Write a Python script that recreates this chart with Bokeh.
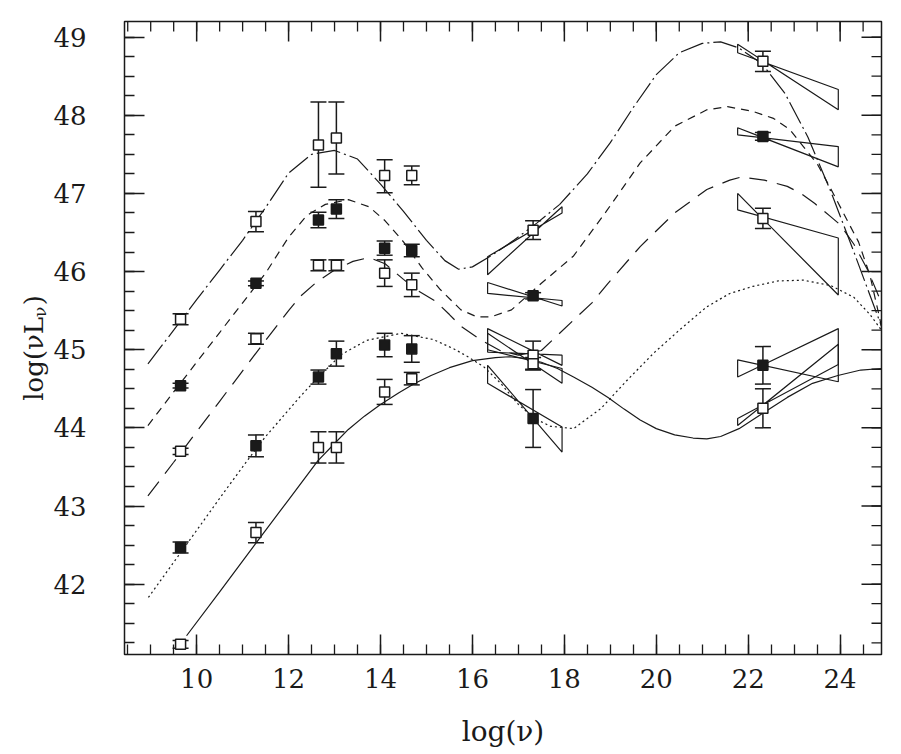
import numpy as np
from bokeh.plotting import figure
from bokeh.layouts import row
from bokeh.models import Range1d, FixedTicker, Whisker, TeeHead, ColumnDataSource
from bokeh.core.properties import value
from bokeh.embed import file_html
from bokeh.resources import INLINE

# ---------------- axes / ticks ----------------
x_major_ticks = [10, 12, 14, 16, 18, 20, 22, 24]
x_minor_ticks = [8.5, 9.0, 9.5, 10.0, 10.5, 11.0, 11.5, 12.0, 12.5, 13.0, 13.5, 14.0,
                 14.5, 15.0, 15.5, 16.0, 16.5, 17.0, 17.5, 18.0, 18.5, 19.0, 19.5,
                 20.0, 20.5, 21.0, 21.5, 22.0, 22.5, 23.0, 23.5, 24.0, 24.5]
y_major_ticks = [42, 43, 44, 45, 46, 47, 48, 49]
y_minor_ticks = [41.25, 41.5, 41.75, 42.0, 42.25, 42.5, 42.75, 43.0, 43.25, 43.5, 43.75,
                 44.0, 44.25, 44.5, 44.75, 45.0, 45.25, 45.5, 45.75, 46.0, 46.25, 46.5,
                 46.75, 47.0, 47.25, 47.5, 47.75, 48.0, 48.25, 48.5, 48.75, 49.0]
x_lo, x_hi = 8.43, 24.9
y_lo, y_hi = 41.1, 49.2

x_label = "log(ν)"
y_label_parts = ["log(νL", "ν", ")"]   # log(ν L_ν)

# ---------------- observed points ----------------
nu_obs = [9.65, 11.29, 12.65, 13.04, 14.09, 14.68, 17.32, 22.32]

bin1_y = [45.39, 46.64, 47.62, 47.71, 47.23, 47.23, 46.53, 48.69]
bin1_up = [0.07, 0.13, 0.55, 0.46, 0.20, 0.12, 0.12, 0.13]
bin1_dn = [0.07, 0.13, 0.54, 0.46, 0.22, 0.12, 0.12, 0.13]

bin2_y = [44.54, 45.85, 46.66, 46.80, 46.30, 46.27, 45.69, 47.73]
bin2_up = [0.03, 0.03, 0.10, 0.12, 0.09, 0.08, 0.04, 0.05]
bin2_dn = [0.03, 0.03, 0.10, 0.12, 0.09, 0.08, 0.04, 0.05]

bin3_y = [43.70, 45.14, 46.08, 46.08, 45.98, 45.83, 44.93, 46.68]
bin3_up = [0.04, 0.07, 0.07, 0.07, 0.17, 0.15, 0.18, 0.13]
bin3_dn = [0.04, 0.07, 0.07, 0.07, 0.17, 0.15, 0.18, 0.13]

bin4_y = [42.47, 43.77, 44.65, 44.95, 45.06, 45.01, 44.12, 44.80]
bin4_up = [0.07, 0.14, 0.09, 0.16, 0.15, 0.17, 0.37, 0.24]
bin4_dn = [0.07, 0.14, 0.09, 0.16, 0.15, 0.17, 0.37, 0.24]

bin5_y = [41.23, 42.66, 43.75, 43.75, 44.46, 44.63, 44.82, 44.25]
bin5_up = [0.05, 0.13, 0.20, 0.20, 0.16, 0.08, 0.08, 0.25]
bin5_dn = [0.05, 0.13, 0.20, 0.20, 0.16, 0.08, 0.08, 0.25]

# ---------------- spectral bow-ties ----------------
xray_x0, xray_x1 = 16.33, 17.95
xray_left_hi = [46.19, 45.86, 45.27, 44.80, 45.21]
xray_left_lo = [45.96, 45.72, 44.97, 44.57, 45.00]
xray_right_hi = [46.83, 45.63, 44.93, 44.01, 44.76]
xray_right_lo = [46.75, 45.56, 44.80, 43.69, 44.57]

gamma_x0, gamma_x1 = 21.77, 23.96
gamma_left_hi = [48.91, 47.84, 47.00, 44.87, 44.12]
gamma_left_lo = [48.80, 47.75, 46.79, 44.65, 44.03]
gamma_right_hi = [48.33, 47.60, 46.43, 45.27, 45.07]
gamma_right_lo = [48.07, 47.34, 45.70, 44.59, 44.81]

# ---------------- model curves ----------------
curve1_x = [8.94, 9.5, 10.0, 10.5, 11.0, 11.5, 12.0, 12.5, 13.0, 13.5, 14.0, 14.5, 15.0,
            15.4, 15.7, 16.0, 16.4, 16.9, 17.4, 17.9, 18.5, 19.0, 19.5, 20.0, 20.5, 21.0,
            21.4, 21.8, 22.3, 22.8, 23.3, 23.8, 24.3, 24.9]
curve1_y = [44.82, 45.25, 45.64, 46.02, 46.40, 46.82, 47.26, 47.50, 47.55, 47.44, 47.12,
            46.77, 46.40, 46.14, 46.03, 46.06, 46.20, 46.40, 46.62, 46.86, 47.25, 47.65,
            48.10, 48.52, 48.80, 48.92, 48.94, 48.86, 48.66, 48.28, 47.72, 47.02, 46.25,
            45.30]

curve2_x = [8.94, 9.5, 10.0, 10.5, 11.0, 11.5, 12.0, 12.4, 12.8, 13.3, 13.75, 14.1, 14.5,
            14.9, 15.3, 15.75, 16.1, 16.4, 16.85, 17.5, 18.2, 18.9, 19.65, 20.4, 21.1,
            21.55, 22.1, 22.55, 22.9, 23.2, 23.5, 23.85, 24.15, 24.4, 24.65, 24.9]
curve2_y = [44.03, 44.46, 44.84, 45.22, 45.60, 45.98, 46.44, 46.72, 46.86, 46.92, 46.83,
            46.65, 46.38, 46.05, 45.77, 45.51, 45.42, 45.42, 45.51, 45.85, 46.20, 46.76,
            47.39, 47.86, 48.07, 48.11, 48.05, 47.96, 47.82, 47.60, 47.38, 47.00, 46.66,
            46.38, 45.95, 45.30]

curve3_x = [8.94, 9.5, 10.0, 10.5, 11.0, 11.5, 12.0, 12.25, 12.6, 13.0, 13.4, 13.75, 14.1,
            14.5, 14.8, 15.2, 15.5, 15.75, 16.2, 16.6, 17.0, 17.5, 18.2, 18.6, 18.95, 19.65,
            20.4, 21.1, 21.6, 21.85, 22.35, 22.85, 23.15, 23.45, 23.8, 24.0, 24.3, 24.6,
            24.9]
curve3_y = [43.13, 43.56, 43.95, 44.34, 44.73, 45.12, 45.50, 45.68, 45.86, 46.02, 46.13,
            46.18, 46.10, 45.90, 45.76, 45.62, 45.45, 45.30, 45.12, 44.99, 44.93, 44.99,
            45.38, 45.60, 45.85, 46.32, 46.75, 47.05, 47.17, 47.21, 47.17, 47.09, 47.00,
            46.87, 46.70, 46.60, 46.35, 46.02, 45.60]

curve4_x = [8.95, 9.5, 10.1, 10.6, 11.1, 11.5, 11.9, 12.25, 12.6, 13.15, 13.7, 14.45, 15.15,
            15.6, 15.9, 16.25, 16.6, 17.0, 17.35, 17.7, 18.2, 18.8, 19.35, 19.95, 20.5,
            21.1, 21.6, 22.1, 22.65, 23.2, 23.8, 24.3, 24.65, 24.9]
curve4_y = [41.83, 42.28, 42.77, 43.18, 43.58, 43.89, 44.16, 44.40, 44.62, 44.94, 45.12,
            45.21, 45.13, 45.01, 44.91, 44.78, 44.58, 44.30, 44.12, 44.02, 43.99, 44.25,
            44.60, 44.96, 45.25, 45.55, 45.72, 45.81, 45.88, 45.89, 45.82, 45.67, 45.45,
            45.25]

curve5_x = [9.78, 10.5, 11.27, 12.0, 12.64, 13.0, 13.3, 13.65, 14.0, 14.4, 14.75, 15.1,
            15.5, 16.0, 16.5, 16.8, 17.15, 17.5, 17.85, 18.2, 18.6, 18.95, 19.3, 19.65,
            20.0, 20.4, 20.8, 21.1, 21.4, 21.8, 22.3, 22.85, 23.4, 23.95, 24.45, 24.9]
curve5_y = [41.34, 41.90, 42.51, 43.08, 43.58, 43.80, 43.98, 44.15, 44.30, 44.45, 44.57,
            44.67, 44.77, 44.86, 44.90, 44.91, 44.89, 44.84, 44.76, 44.65, 44.52, 44.39,
            44.24, 44.10, 43.99, 43.91, 43.87, 43.86, 43.89, 43.99, 44.18, 44.39, 44.57,
            44.67, 44.74, 44.76]

# ---------------- styling ----------------
FONT = "DejaVu Serif"
INK = "#1a1a1a"
LEFT_W = 50
BORDER_TOP, BORDER_BOTTOM = 21, 100
MAJOR_LEN, MINOR_LEN = 20, 10

# ---------------- main figure ----------------
p = figure(width=901 - LEFT_W, height=754, x_range=Range1d(x_lo, x_hi),
           y_range=Range1d(y_lo, y_hi), output_backend="svg", toolbar_location=None,
           min_border_left=123 - LEFT_W, min_border_right=20, min_border_top=BORDER_TOP,
           min_border_bottom=BORDER_BOTTOM)
p.background_fill_color = "white"
p.border_fill_color = "white"
p.xgrid.grid_line_color = None
p.ygrid.grid_line_color = None
p.outline_line_color = INK
p.outline_line_width = 1.5

for ax, ticks, minor in ((p.xaxis[0], x_major_ticks, x_minor_ticks),
                         (p.yaxis[0], y_major_ticks, y_minor_ticks)):
    ax.ticker = FixedTicker(ticks=ticks, minor_ticks=minor)
    ax.axis_line_color = None
    ax.major_tick_in = MAJOR_LEN
    ax.major_tick_out = 0
    ax.minor_tick_in = MINOR_LEN
    ax.minor_tick_out = 0
    ax.major_tick_line_color = INK
    ax.minor_tick_line_color = INK
    ax.major_tick_line_width = 1.5
    ax.minor_tick_line_width = 1.3
    ax.major_label_text_font = FONT
    ax.major_label_text_font_size = "26px"
    ax.major_label_text_color = INK

p.xaxis[0].major_label_standoff = 14
p.yaxis[0].major_label_standoff = 38
p.xaxis[0].axis_label = x_label
p.xaxis[0].axis_label_text_font = FONT
p.xaxis[0].axis_label_text_font_style = "normal"
p.xaxis[0].axis_label_text_font_size = "28px"
p.xaxis[0].axis_label_text_color = INK
p.xaxis[0].axis_label_standoff = 24

# inward ticks along the top and right edges of the frame
tick_style = dict(length_units="screen", line_color=INK)
p.ray(x=x_major_ticks, y=[y_hi] * len(x_major_ticks), length=MAJOR_LEN,
      angle=-np.pi / 2, line_width=1.5, **tick_style)
p.ray(x=x_minor_ticks, y=[y_hi] * len(x_minor_ticks), length=MINOR_LEN,
      angle=-np.pi / 2, line_width=1.3, **tick_style)
p.ray(x=[x_hi] * len(y_major_ticks), y=y_major_ticks, length=MAJOR_LEN,
      angle=np.pi, line_width=1.5, **tick_style)
p.ray(x=[x_hi] * len(y_minor_ticks), y=y_minor_ticks, length=MINOR_LEN,
      angle=np.pi, line_width=1.3, **tick_style)

# model curves
curves = [
    (curve1_x, curve1_y, "24 4 2 4"),
    (curve2_x, curve2_y, "8 6"),
    (curve3_x, curve3_y, "18 10"),
    (curve4_x, curve4_y, "2 3"),
    (curve5_x, curve5_y, "solid"),
]
for cx, cy, dash in curves:
    p.line(cx, cy, line_color=INK, line_width=1.2, line_dash=dash)

# bow-ties
bx, by = [], []
for i in range(5):
    bx.append([xray_x0, xray_x1, xray_x1, xray_x0])
    by.append([xray_left_hi[i], xray_right_lo[i], xray_right_hi[i], xray_left_lo[i]])
    bx.append([gamma_x0, gamma_x1, gamma_x1, gamma_x0])
    by.append([gamma_left_hi[i], gamma_right_lo[i], gamma_right_hi[i], gamma_left_lo[i]])
p.patches(bx, by, fill_color=None, line_color=INK, line_width=1.2)

# points with error bars
bins = [
    (bin1_y, bin1_up, bin1_dn, "white"),
    (bin2_y, bin2_up, bin2_dn, INK),
    (bin3_y, bin3_up, bin3_dn, "white"),
    (bin4_y, bin4_up, bin4_dn, INK),
    (bin5_y, bin5_up, bin5_dn, "white"),
]
for ys, up, dn, fill in bins:
    src = ColumnDataSource(dict(
        x=nu_obs, y=ys,
        upper=[y + u for y, u in zip(ys, up)],
        lower=[y - d for y, d in zip(ys, dn)],
    ))
    w = Whisker(source=src, base="x", upper="upper", lower="lower", dimension="height",
                line_color=INK, line_width=1.5,
                upper_head=TeeHead(size=16, line_color=INK, line_width=1.5),
                lower_head=TeeHead(size=16, line_color=INK, line_width=1.5))
    w.level = "glyph"
    p.add_layout(w)
    p.scatter("x", "y", source=src, marker="square", size=10, fill_color=fill,
              line_color=INK, line_width=1.5, level="overlay")

# ---------------- y-axis title strip (text with a subscript) ----------------
# same vertical borders and y range as the main plot; x in pixels across the strip
lab = figure(width=LEFT_W, height=754, x_range=Range1d(0, LEFT_W), y_range=Range1d(y_lo, y_hi),
             output_backend="svg", toolbar_location=None,
             min_border_left=0, min_border_right=0, min_border_top=BORDER_TOP,
             min_border_bottom=BORDER_BOTTOM, x_axis_type=None, y_axis_type=None)
lab.outline_line_color = None
lab.background_fill_color = "white"
lab.border_fill_color = "white"
lab.xgrid.grid_line_color = None
lab.ygrid.grid_line_color = None
Y_END = 45.42    # where "log(νL" ends and the subscript starts
lab.text(x=[33], y=[Y_END], text=[y_label_parts[0]], angle=np.pi / 2, text_align="right",
         text_baseline="alphabetic", text_font=value(FONT), text_font_size=value("26px"),
         text_color=INK)
lab.text(x=[39], y=[Y_END], text=[y_label_parts[1]], angle=np.pi / 2, text_align="left",
         text_baseline="alphabetic", text_font=value(FONT), text_font_size=value("17px"),
         text_color=INK)
lab.text(x=[33], y=[Y_END + 0.15], text=[y_label_parts[2]], angle=np.pi / 2,
         text_align="left", text_baseline="alphabetic", text_font=value(FONT),
         text_font_size=value("26px"), text_color=INK)

layout = row(lab, p)
open("out.html", "w").write(file_html(layout, INLINE))
